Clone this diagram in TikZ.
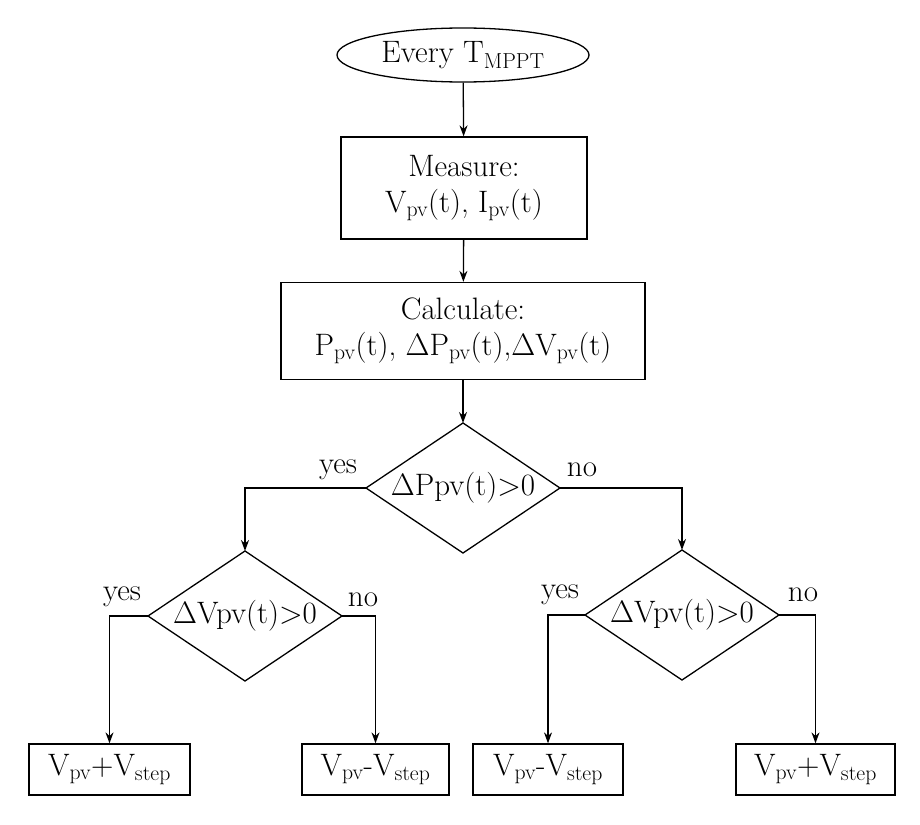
\documentclass[tikz,border=0pt]{standalone}
\usepackage{fontspec}
\usepackage{tikz}
\usetikzlibrary{shapes.geometric,arrows.meta}
\newcommand{\sbx}[1]{\textsubscript{#1}}
\begin{document}
\begin{tikzpicture}[x=1pt,y=-1pt,
  every node/.style={font=\fontsize{31}{36}\selectfont},
  box/.style={draw,line width=1.3pt,inner sep=0pt,align=center},
  ln/.style={line width=1.3pt},
  arr/.style={line width=1.3pt,-{Stealth[length=11pt,width=8pt]}},
  lab/.style={inner sep=0pt}]
\useasboundingbox (0,0) rectangle (920,824);
\node[box,ellipse,minimum width=252pt,minimum height=54pt] (e) at (463,55) {Every T\sbx{MPPT}};
\node[box,minimum width=246pt,minimum height=102pt] (m) at (464,188) {Measure:\\ V\sbx{pv}(t), I\sbx{pv}(t)};
\node[box,minimum width=364pt,minimum height=97pt] (c) at (463,331) {Calculate:\\ P\sbx{pv}(t), ΔP\sbx{pv}(t),ΔV\sbx{pv}(t)};
% diamonds
\foreach \n/\x/\y in {d1/463/488, d2/245/616, d3/682/615}{
  \coordinate (\n) at (\x,\y);
  \coordinate (\n n) at (\x,\y-65);
  \coordinate (\n s) at (\x,\y+65);
  \coordinate (\n w) at (\x-97,\y);
  \coordinate (\n e) at (\x+97,\y);
  \draw[ln] (\n n) -- (\n e) -- (\n s) -- (\n w) -- cycle;
}
\node[inner sep=0pt] (t1) at (d1) {ΔPpv(t)>0};
\node[inner sep=0pt] (t2) at (d2) {ΔVpv(t)>0};
\node[inner sep=0pt] (t3) at (d3) {ΔVpv(t)>0};
\node[box,minimum width=161pt,minimum height=51pt] (b1) at (109.5,769.5) {V\sbx{pv}+V\sbx{step}};
\node[box,minimum width=147pt,minimum height=51pt] (b2) at (375.5,769.5) {V\sbx{pv}-V\sbx{step}};
\node[box,minimum width=150pt,minimum height=51pt] (b3) at (548,769.5) {V\sbx{pv}-V\sbx{step}};
\node[box,minimum width=159pt,minimum height=51pt] (b4) at (815.5,769.5) {V\sbx{pv}+V\sbx{step}};
\draw[arr] (e) -- (m);
\draw[arr] (m) -- (c);
\draw[arr] (c) -- (d1n);
\draw[arr] (d1w) -| (d2n);
\draw[arr] (d1e) -| (d3n);
\draw[arr] (d2w) -| (b1.north);
\draw[arr] (d2e) -| (b2.north);
\draw[arr] (d3w) -| (b3.north);
\draw[arr] (d3e) -| (b4.north);
\node[lab] (l1) at (338,470) {yes};
\node[lab] (l2) at (582,470) {no};
\node[lab] (l3) at (122,597) {yes};
\node[lab] (l4) at (363,600) {no};
\node[lab] (l5) at (560,595) {yes};
\node[lab] (l6) at (803,595) {no};
\end{tikzpicture}
\end{document}
